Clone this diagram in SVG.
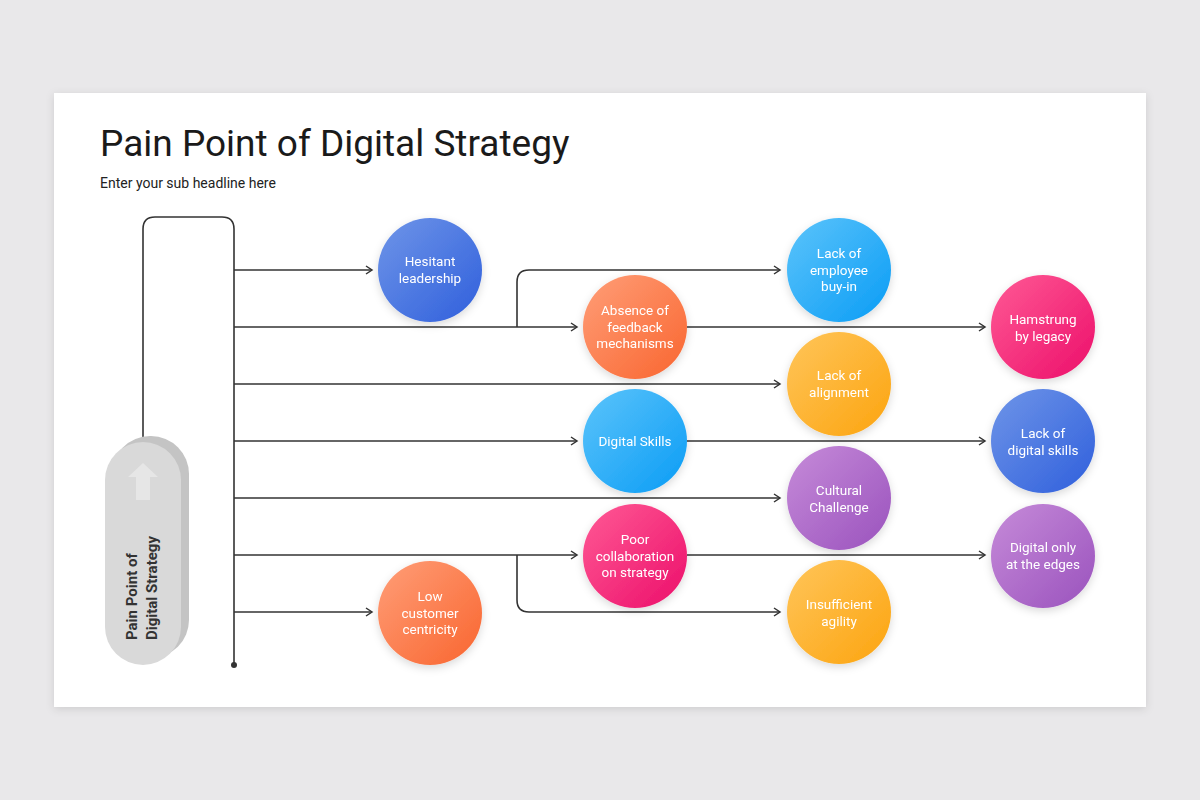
<svg xmlns="http://www.w3.org/2000/svg" width="1200" height="800" viewBox="0 0 1200 800">
<defs>
<filter id="sh" x="-10%" y="-10%" width="120%" height="120%"><feDropShadow dx="0" dy="2" stdDeviation="4" flood-opacity="0.12"/></filter>
<filter id="csh" x="-20%" y="-20%" width="140%" height="140%"><feDropShadow dx="0" dy="3" stdDeviation="4" flood-opacity="0.15"/></filter>
<marker id="ar" markerWidth="10" markerHeight="10" refX="8" refY="5" orient="auto" markerUnits="userSpaceOnUse"><path d="M2,1 L8,5 L2,9" fill="none" stroke="#333" stroke-width="1.5"/></marker>
<linearGradient id="gBlue" x1="0" y1="0" x2="1" y2="1"><stop offset="0" stop-color="#6f95e8"/><stop offset="1" stop-color="#2f5fdc"/></linearGradient>
<linearGradient id="gOrange" x1="0" y1="0" x2="1" y2="1"><stop offset="0" stop-color="#ff9e78"/><stop offset="1" stop-color="#f9652f"/></linearGradient>
<linearGradient id="gSky" x1="0" y1="0" x2="1" y2="1"><stop offset="0" stop-color="#5cc4fb"/><stop offset="1" stop-color="#0a9cf5"/></linearGradient>
<linearGradient id="gYellow" x1="0" y1="0" x2="1" y2="1"><stop offset="0" stop-color="#ffc55a"/><stop offset="1" stop-color="#fca40f"/></linearGradient>
<linearGradient id="gPink" x1="0" y1="0" x2="1" y2="1"><stop offset="0" stop-color="#ff5a95"/><stop offset="1" stop-color="#ec0e6a"/></linearGradient>
<linearGradient id="gPurple" x1="0" y1="0" x2="1" y2="1"><stop offset="0" stop-color="#c68bd9"/><stop offset="1" stop-color="#9a52bd"/></linearGradient>
</defs>
<style>
.ln{fill:none;stroke:#333;stroke-width:1.6}
.t{font-family:Roboto,"Liberation Sans",sans-serif;font-size:13.5px;fill:#fff;text-anchor:middle}
</style>
<rect width="1200" height="800" fill="#e9e8ea"/>
<rect x="54" y="93" width="1092" height="614" fill="#fff" filter="url(#sh)"/>
<text x="100" y="156" font-family="Roboto,'Liberation Sans',sans-serif" font-size="37" fill="#1a1a1a">Pain Point of Digital Strategy</text>
<text x="100" y="188" font-family="Roboto,'Liberation Sans',sans-serif" font-size="14" fill="#222">Enter your sub headline here</text>
<g id="connectors">
<path class="ln" d="M143,437 V229 Q143,217 155,217 H222 Q234,217 234,229 V665"/>
<circle cx="234" cy="665" r="3" fill="#333"/>
<path class="ln" d="M234,270 H372" marker-end="url(#ar)"/>
<path class="ln" d="M234,327 H577" marker-end="url(#ar)"/>
<path class="ln" d="M517,327 V282 Q517,270 529,270 H780" marker-end="url(#ar)"/>
<path class="ln" d="M687,327 H985" marker-end="url(#ar)"/>
<path class="ln" d="M234,384 H780" marker-end="url(#ar)"/>
<path class="ln" d="M234,441 H577" marker-end="url(#ar)"/>
<path class="ln" d="M687,441 H985" marker-end="url(#ar)"/>
<path class="ln" d="M234,498 H780" marker-end="url(#ar)"/>
<path class="ln" d="M234,555 H577" marker-end="url(#ar)"/>
<path class="ln" d="M687,555 H985" marker-end="url(#ar)"/>
<path class="ln" d="M517,555 V600 Q517,612 529,612 H780" marker-end="url(#ar)"/>
<path class="ln" d="M234,612 H372" marker-end="url(#ar)"/>
</g>
<g id="pill">
<rect x="112" y="436" width="77" height="222" rx="38" fill="#c4c4c4"/>
<rect x="105" y="442" width="76" height="223" rx="38" fill="#d9d9d9"/>
<path d="M143,463 L158,477 H150 V500 H136 V477 H128 Z" fill="#e6e6e6"/>
<text transform="translate(137,640) rotate(-90)" font-family="Roboto,'Liberation Sans',sans-serif" font-size="15" font-weight="bold" fill="#333">Pain Point of</text>
<text transform="translate(157,640) rotate(-90)" font-family="Roboto,'Liberation Sans',sans-serif" font-size="15" font-weight="bold" fill="#333">Digital Strategy</text>
</g>
<g id="n1" filter="url(#csh)"><circle cx="430" cy="270" r="52" fill="url(#gBlue)"/><text class="t" x="430" y="266">Hesitant</text><text class="t" x="430" y="283">leadership</text></g>
<g id="n2" filter="url(#csh)"><circle cx="430" cy="613" r="52" fill="url(#gOrange)"/><text class="t" x="430" y="601">Low</text><text class="t" x="430" y="618">customer</text><text class="t" x="430" y="634">centricity</text></g>
<g id="n3" filter="url(#csh)"><circle cx="635" cy="327" r="52" fill="url(#gOrange)"/><text class="t" x="635" y="315">Absence  of</text><text class="t" x="635" y="332">feedback</text><text class="t" x="635" y="348">mechanisms</text></g>
<g id="n4" filter="url(#csh)"><circle cx="635" cy="441" r="52" fill="url(#gSky)"/><text class="t" x="635" y="446">Digital Skills</text></g>
<g id="n5" filter="url(#csh)"><circle cx="635" cy="556" r="52" fill="url(#gPink)"/><text class="t" x="635" y="544">Poor</text><text class="t" x="635" y="561">collaboration</text><text class="t" x="635" y="577">on strategy</text></g>
<g id="n6" filter="url(#csh)"><circle cx="839" cy="270" r="52" fill="url(#gSky)"/><text class="t" x="839" y="258">Lack of</text><text class="t" x="839" y="275">employee</text><text class="t" x="839" y="291">buy-in</text></g>
<g id="n7" filter="url(#csh)"><circle cx="839" cy="384" r="52" fill="url(#gYellow)"/><text class="t" x="839" y="380">Lack of</text><text class="t" x="839" y="397">alignment</text></g>
<g id="n8" filter="url(#csh)"><circle cx="839" cy="498" r="52" fill="url(#gPurple)"/><text class="t" x="839" y="495">Cultural</text><text class="t" x="839" y="512">Challenge</text></g>
<g id="n9" filter="url(#csh)"><circle cx="839" cy="612" r="52" fill="url(#gYellow)"/><text class="t" x="839" y="609">Insufficient</text><text class="t" x="839" y="626">agility</text></g>
<g id="n10" filter="url(#csh)"><circle cx="1043" cy="327" r="52" fill="url(#gPink)"/><text class="t" x="1043" y="324">Hamstrung</text><text class="t" x="1043" y="341">by legacy</text></g>
<g id="n11" filter="url(#csh)"><circle cx="1043" cy="441" r="52" fill="url(#gBlue)"/><text class="t" x="1043" y="438">Lack of</text><text class="t" x="1043" y="455">digital skills</text></g>
<g id="n12" filter="url(#csh)"><circle cx="1043" cy="556" r="52" fill="url(#gPurple)"/><text class="t" x="1043" y="552">Digital only</text><text class="t" x="1043" y="569">at the edges</text></g>
</svg>
